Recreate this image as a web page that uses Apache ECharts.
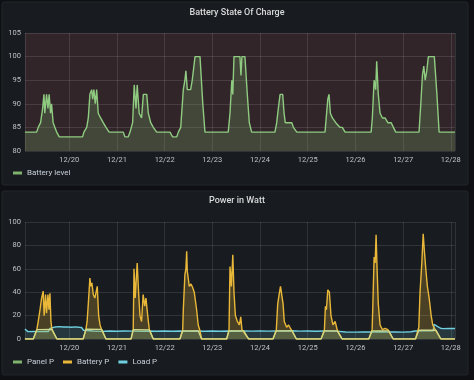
<!DOCTYPE html>
<html><head><meta charset="utf-8">
<script src="https://cdn.jsdelivr.net/npm/echarts@6/dist/echarts.min.js"></script>
<style>html,body{margin:0;padding:0;background:#0f1013;}#c{width:474px;height:380px;}</style>
</head><body><div id="c"></div>
<script>
// hours since 12/19 00:00, value
const socLevel = [[1.7,84],[7.6,84],[8.4,85],[9.6,86],[10.6,89],[11.3,92],[11.7,88],[12.6,92],[13.3,89],[13.9,92],[14.6,88],[15.1,90],[15.9,86],[16.8,85],[17.7,84],[19.0,83],[30.7,83],[31.4,84],[32.8,85],[33.6,87],[34.4,92],[35.3,93],[35.8,91],[36.4,93],[37.1,90],[37.8,93],[38.6,88],[39.8,87],[41.1,86],[42.5,85],[44.1,84],[51.2,84],[52.0,83],[53.7,83],[54.6,84],[55.9,86],[56.7,94],[57.6,89],[58.2,94],[59.2,88],[60.4,87],[61.3,92],[63.0,92],[63.8,88],[65.0,86],[66.3,85],[68.0,84],[74.7,84],[76.0,83],[78.1,83],[78.9,84],[80.1,85],[81.4,93],[82.2,95],[82.7,97],[83.4,93],[85.1,93],[85.9,95],[87.3,100],[89.8,100],[91.2,90],[92.3,84],[104.0,84],[104.9,88],[105.8,95],[106.3,92],[106.9,100],[109.9,100],[110.4,96],[110.9,100],[112.4,100],[113.6,92],[114.6,86],[115.8,84],[127.5,84],[128.4,86],[129.2,89],[130.1,92],[131.4,92],[132.1,88],[132.7,86],[136.0,86],[136.8,85],[138.5,84],[152.7,84],[153.1,86],[154.1,91],[154.7,92],[155.4,88],[156.4,87],[157.4,87],[158.1,86],[159.1,86],[160.3,85],[161.4,85],[162.8,84],[175.9,84],[176.5,87],[177.4,95],[178.2,93],[178.7,99],[179.5,92],[180.4,88],[181.6,87],[182.9,87],[184.3,86],[186.0,86],[187.1,85],[188.3,84],[200.0,84],[200.9,90],[201.7,96],[202.4,98],[203.1,95],[203.9,97],[204.7,100],[207.7,100],[209.0,92],[210.1,84],[218.1,84]];

const panelP = [[1.7,0],[5.9,0],[7.7,8],[15.3,8.3],[17.8,0],[31.0,0],[32.4,8.5],[40.3,8.3],[42.5,0],[55.1,0],[56.2,8],[64.3,7.8],[66.3,0],[79.7,0],[81.1,7],[88.9,7],[90.6,0],[103.2,0],[104.4,7],[111.8,7],[114.3,0],[126.5,0],[128.2,7],[136.1,7],[138.3,0],[150.7,0],[152.4,7],[158.8,7],[161.3,0],[174.7,0],[176.4,7],[184.8,7],[187.0,0],[198.2,0],[199.9,7.5],[208.6,7.5],[211.0,0],[218.1,0]];

const batteryP = [[1.7,0],[5.9,0],[7.7,8],[8.4,15],[9.3,25],[10.1,35],[10.9,41],[11.4,20],[12.1,38],[12.6,22],[13.3,38],[13.8,25],[14.3,39],[14.8,15],[15.3,8],[17.8,0],
[31.0,0],[32.4,8],[33.0,15],[33.6,30],[34.4,52],[34.9,45],[35.4,48],[36.1,38],[36.9,35],[38.1,45],[38.8,20],[39.5,12],[40.3,8],[42.5,0],
[55.1,0],[56.2,8],[56.6,60],[57.2,35],[58.2,65],[58.9,40],[59.6,20],[60.4,15],[61.2,38],[62.0,28],[62.6,35],[63.5,20],[64.3,8],[66.3,0],
[79.7,0],[81.1,8],[81.4,25],[82.2,55],[82.7,60],[83.1,75],[83.4,58],[84.4,45],[85.3,47],[86.1,44],[86.9,40],[88.1,25],[88.9,12],[89.8,7],[90.6,0],
[103.2,0],[104.4,8],[104.9,62],[105.6,45],[106.3,72],[106.9,40],[107.6,20],[108.6,15],[109.6,12],[110.3,19],[110.9,8],[111.8,7],[114.3,0],
[126.5,0],[128.2,8],[128.9,30],[129.6,38],[130.3,45],[131.0,44],[131.6,30],[132.2,15],[133.4,10],[134.4,12],[135.3,9],[136.1,7],[138.3,0],
[150.7,0],[152.4,8],[152.9,28],[153.4,25],[154.1,42],[154.9,40],[155.7,20],[156.7,12],[157.8,15],[158.8,8],[161.3,0],
[174.7,0],[176.4,8],[176.7,25],[177.4,70],[177.9,65],[178.4,89],[178.9,60],[179.5,30],[180.4,12],[181.6,8],[182.9,9],[184.3,8],[184.8,7],[187.0,0],
[198.2,0],[199.9,10],[200.5,40],[201.4,65],[202.1,90],[202.7,75],[203.4,60],[204.2,45],[205.1,35],[206.1,20],[206.9,12],[208.1,8],[209.0,7],[211.0,0],[218.1,0]];

const loadP = [[1.7,8.5],[2.6,8.5],[3.2,6.3],[6,6.5],[9,6.3],[12,6.5],[13.5,6.4],[14.3,9],[15.1,10.5],[17,10.3],[19,10.6],[21,10.2],[23,10.4],[25,10.1],[27,10.4],[29,10],[30.2,9.8],[31.2,7.5],[31.9,6.6],[36,6.8],[40,6.5],[44,6.8],[48,6.6],[52,6.9],[56,6.7],[60,6.5],[64,6.8],[68,6.6],[72,6.9],[76,6.6],[80,6.8],[84,6.5],[88,6.8],[92,6.6],[96,6.9],[100,6.6],[104,6.8],[108,6.6],[112,6.9],[116,6.7],[120,6.9],[124,6.7],[128,6.9],[132,6.8],[136,7.0],[140,6.7],[144,6.9],[148,6.6],[152,6.8],[156,6.7],[160,6.5],[163,6.0],[168,5.9],[172,6.1],[176,6.0],[180,6.2],[184,6.0],[188,6.1],[192,5.9],[196,6.2],[198,6.8],[202,7.0],[206,7.1],[207.2,7.1],[207.5,12.6],[208.3,12.0],[209,11],[210,10],[210.8,9.2],[212,8.9],[215,9],[218.1,9]];

const socTicks = {min: 80, max: 105, step: 5};
const powerTicks = {min: 0, max: 100, step: 20};

const base = new Date(2022, 11, 19, 0, 0, 0).getTime();
const H = 3600000;
const conv = a => a.map(p => [base + p[0] * H, p[1]]);
const pad = n => (n < 10 ? '0' : '') + n;
const fmt = v => { const d = new Date(v); return (d.getMonth() + 1) + '/' + pad(d.getDate()); };

const FONT = 'Roboto';
const labelColor = '#bcc2ca';
const gridLine = 'rgba(255,255,255,0.11)';

function xAxis(gi) {
  return {
    type: 'time', gridIndex: gi,
    min: base + 1.75 * H, max: base + 218.1 * H,
    minInterval: 24 * H, maxInterval: 24 * H,
    axisLine: {show: false}, axisTick: {show: false},
    axisLabel: {color: labelColor, fontSize: 7.5, fontFamily: FONT, margin: 5, formatter: fmt},
    splitLine: {show: true, lineStyle: {color: gridLine, width: 1}}
  };
}
function yAxis(gi, t) {
  return {
    type: 'value', gridIndex: gi, min: t.min, max: t.max, interval: t.step,
    axisLine: {show: false}, axisTick: {show: false},
    axisLabel: {color: labelColor, fontSize: 7.5, fontFamily: FONT, margin: 4},
    splitLine: {show: true, lineStyle: {color: gridLine, width: 1}}
  };
}

const chart = echarts.init(document.getElementById('c'), null, {renderer: 'canvas'});
chart.setOption({
  backgroundColor: '#0f1013',
  animation: false,
  graphic: [
    {type: 'rect', z: -10, shape: {x: 2, y: 2, width: 466, height: 183, r: 2}, style: {fill: '#181b1f', stroke: '#23262b', lineWidth: 1}},
    {type: 'rect', z: -10, shape: {x: 2, y: 191, width: 466, height: 184, r: 2}, style: {fill: '#181b1f', stroke: '#23262b', lineWidth: 1}}
  ],
  title: [
    {text: 'Battery State Of Charge', left: 'center', top: 8, padding: 0, textStyle: {color: '#d8d9da', fontSize: 9, fontWeight: 500, fontFamily: FONT}},
    {text: 'Power in Watt', left: 'center', top: 196, padding: 0, textStyle: {color: '#d8d9da', fontSize: 9, fontWeight: 500, fontFamily: FONT}}
  ],
  legend: [
    {data: ['Battery level'], left: 13, top: 169, icon: 'rect', itemWidth: 9, itemHeight: 3, itemGap: 10, padding: 0,
     textStyle: {color: '#c7d0d9', fontSize: 8, fontFamily: FONT}},
    {data: ['Panel P', 'Battery P', 'Load P'], left: 13, top: 358, icon: 'rect', itemWidth: 9, itemHeight: 3, itemGap: 9, padding: 0,
     textStyle: {color: '#c7d0d9', fontSize: 8, fontFamily: FONT}}
  ],
  grid: [
    {left: 25, right: 19, top: 33, height: 118, show: true, backgroundColor: '#31252a', borderWidth: 0},
    {left: 25, right: 19, top: 222, height: 117, show: false}
  ],
  xAxis: [xAxis(0), xAxis(1)],
  yAxis: [yAxis(0, socTicks), yAxis(1, powerTicks)],
  series: [
    {name: 'Battery level', type: 'line', xAxisIndex: 0, yAxisIndex: 0, data: conv(socLevel), showSymbol: false,
     itemStyle: {color: '#7EB26D'}, lineStyle: {color: '#8fcb80', width: 1.4}, areaStyle: {color: '#7EB26D', opacity: 0.24}},
    {name: 'Load P', type: 'line', xAxisIndex: 1, yAxisIndex: 1, data: conv(loadP), showSymbol: false, z: 2,
     itemStyle: {color: '#6ED0E0'}, lineStyle: {color: '#6ED0E0', width: 1.4}, areaStyle: {color: '#6ED0E0', opacity: 0.16}},
    {name: 'Battery P', type: 'line', xAxisIndex: 1, yAxisIndex: 1, data: conv(batteryP), showSymbol: false, z: 3,
     itemStyle: {color: '#EAB839'}, lineStyle: {color: '#EAB839', width: 1.4}, areaStyle: {color: '#EAB839', opacity: 0.24}},
    {name: 'Panel P', type: 'line', xAxisIndex: 1, yAxisIndex: 1, data: conv(panelP), showSymbol: false, z: 4,
     itemStyle: {color: '#7EB26D'}, lineStyle: {color: '#cfd98a', width: 1.3}, areaStyle: {color: '#7EB26D', opacity: 0.12}}
  ]
});
</script></body></html>
